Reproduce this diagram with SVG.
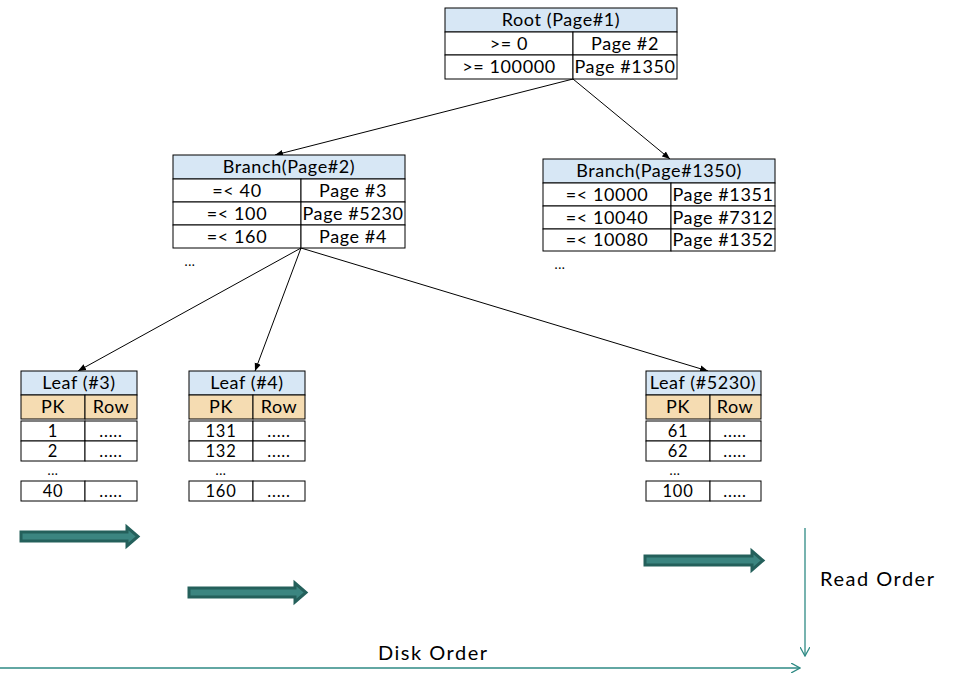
<svg xmlns="http://www.w3.org/2000/svg" width="953" height="681" viewBox="0 0 953 681">
<defs>
<style>
text{font-family:Lato,"Open Sans","DejaVu Sans",sans-serif;font-size:18px;letter-spacing:0.6px;fill:#000;text-anchor:middle}
.c{fill:#fff;stroke:#000;stroke-width:1}
.h{fill:#d7e7f5;stroke:#000;stroke-width:1}
.t{fill:#f5dcb2;stroke:#000;stroke-width:1}
.ln{stroke:#000;stroke-width:1;fill:none}
.big{fill:#3b8580;stroke:#24605b;stroke-width:3}
.tl{stroke:#2e8a84;stroke-width:1.3;fill:none}
.lab{font-size:20px;text-anchor:start;letter-spacing:1.5px}
.s{font-size:16.5px;letter-spacing:0.8px}
.d{font-size:13px}
</style>
<marker id="ah" viewBox="0 0 10 10" refX="10" refY="5" markerWidth="8" markerHeight="8" orient="auto" markerUnits="userSpaceOnUse"><path d="M0,1 L10,5 L0,9 z" fill="#000"/></marker>
<marker id="oh" viewBox="0 0 10 10" refX="9" refY="5" markerWidth="10" markerHeight="10" orient="auto" markerUnits="userSpaceOnUse"><path d="M0,0 L9,5 L0,10" fill="none" stroke="#2e8a84" stroke-width="1.3"/></marker>
</defs>
<rect width="953" height="681" fill="#fff"/>
<g id="connectors">
<line class="ln" x1="573" y1="79" x2="275" y2="155" marker-end="url(#ah)"/>
<line class="ln" x1="573" y1="79" x2="670" y2="159" marker-end="url(#ah)"/>
<line class="ln" x1="301" y1="248" x2="78" y2="371" marker-end="url(#ah)"/>
<line class="ln" x1="301" y1="248" x2="255" y2="371" marker-end="url(#ah)"/>
<line class="ln" x1="301" y1="248" x2="708" y2="371" marker-end="url(#ah)"/>
</g>
<g id="root">
<rect class="h" x="445" y="8" width="232" height="24"/>
<rect class="c" x="445" y="32" width="128" height="23"/><rect class="c" x="573" y="32" width="104" height="23"/>
<rect class="c" x="445" y="55" width="128" height="24"/><rect class="c" x="573" y="55" width="104" height="24"/>
<text x="561" y="26">Root (Page#1)</text>
<text x="509" y="50">&gt;= 0</text><text x="625" y="50">Page #2</text>
<text x="509" y="73">&gt;= 100000</text><text x="625" y="73">Page #1350</text>
</g>
<g id="branch2">
<rect class="h" x="173" y="155" width="232" height="24"/>
<rect class="c" x="173" y="179" width="128" height="23"/><rect class="c" x="301" y="179" width="104" height="23"/>
<rect class="c" x="173" y="202" width="128" height="23"/><rect class="c" x="301" y="202" width="104" height="23"/>
<rect class="c" x="173" y="225" width="128" height="23"/><rect class="c" x="301" y="225" width="104" height="23"/>
<text x="289" y="173">Branch(Page#2)</text>
<text x="237" y="197">=&lt; 40</text><text x="353" y="197">Page #3</text>
<text x="237" y="220">=&lt; 100</text><text x="353" y="220">Page #5230</text>
<text x="237" y="243">=&lt; 160</text><text x="353" y="243">Page #4</text>
<text class="d" x="190" y="266">...</text>
</g>
<g id="branch1350">
<rect class="h" x="543" y="159" width="232" height="24"/>
<rect class="c" x="543" y="183" width="128" height="23"/><rect class="c" x="671" y="183" width="104" height="23"/>
<rect class="c" x="543" y="206" width="128" height="23"/><rect class="c" x="671" y="206" width="104" height="23"/>
<rect class="c" x="543" y="229" width="128" height="22"/><rect class="c" x="671" y="229" width="104" height="22"/>
<text x="659" y="177">Branch(Page#1350)</text>
<text x="607" y="201">=&lt; 10000</text><text x="723" y="201">Page #1351</text>
<text x="607" y="224">=&lt; 10040</text><text x="723" y="224">Page #7312</text>
<text x="607" y="246">=&lt; 10080</text><text x="723" y="246">Page #1352</text>
<text class="d" x="560" y="269">...</text>
</g>
<g id="leaf3">
<rect class="h" x="21" y="371" width="116" height="24"/>
<rect class="t" x="21" y="395" width="64" height="24"/><rect class="t" x="85" y="395" width="52" height="24"/>
<rect class="c" x="21" y="421" width="64" height="20"/><rect class="c" x="85" y="421" width="52" height="20"/>
<rect class="c" x="21" y="441" width="64" height="20"/><rect class="c" x="85" y="441" width="52" height="20"/>
<rect class="c" x="21" y="481" width="64" height="20"/><rect class="c" x="85" y="481" width="52" height="20"/>
<text x="79" y="389">Leaf (#3)</text>
<text x="53" y="413">PK</text><text x="111" y="413">Row</text>
<text class="s" x="53" y="437">1</text><text class="s" x="111" y="437">.....</text>
<text class="s" x="53" y="457">2</text><text class="s" x="111" y="457">.....</text>
<text class="d" x="53" y="475">...</text>
<text class="s" x="53" y="497">40</text><text class="s" x="111" y="497">.....</text>
</g>
<g id="leaf4">
<rect class="h" x="189" y="371" width="116" height="24"/>
<rect class="t" x="189" y="395" width="64" height="24"/><rect class="t" x="253" y="395" width="52" height="24"/>
<rect class="c" x="189" y="421" width="64" height="20"/><rect class="c" x="253" y="421" width="52" height="20"/>
<rect class="c" x="189" y="441" width="64" height="20"/><rect class="c" x="253" y="441" width="52" height="20"/>
<rect class="c" x="189" y="481" width="64" height="20"/><rect class="c" x="253" y="481" width="52" height="20"/>
<text x="247" y="389">Leaf (#4)</text>
<text x="221" y="413">PK</text><text x="279" y="413">Row</text>
<text class="s" x="221" y="437">131</text><text class="s" x="279" y="437">.....</text>
<text class="s" x="221" y="457">132</text><text class="s" x="279" y="457">.....</text>
<text class="d" x="221" y="475">...</text>
<text class="s" x="221" y="497">160</text><text class="s" x="279" y="497">.....</text>
</g>
<g id="leaf5230">
<rect class="h" x="646" y="371" width="115" height="24"/>
<rect class="t" x="646" y="395" width="64" height="24"/><rect class="t" x="710" y="395" width="51" height="24"/>
<rect class="c" x="646" y="421" width="64" height="20"/><rect class="c" x="710" y="421" width="51" height="20"/>
<rect class="c" x="646" y="441" width="64" height="20"/><rect class="c" x="710" y="441" width="51" height="20"/>
<rect class="c" x="646" y="481" width="64" height="20"/><rect class="c" x="710" y="481" width="51" height="20"/>
<text x="703" y="389">Leaf (#5230)</text>
<text x="678" y="413">PK</text><text x="735" y="413">Row</text>
<text class="s" x="678" y="437">61</text><text class="s" x="735" y="437">.....</text>
<text class="s" x="678" y="457">62</text><text class="s" x="735" y="457">.....</text>
<text class="d" x="675" y="475">...</text>
<text class="s" x="678" y="497">100</text><text class="s" x="735" y="497">.....</text>
</g>
<g id="arrows">
<path class="big" d="M21,532 H127 V527 L138,536.5 L127,546 V541 H21 Z"/>
<path class="big" d="M189,588 H295 V583 L306,592.5 L295,602 V597 H189 Z"/>
<path class="big" d="M645,556 H752 V551 L763,560.5 L752,570 V565 H645 Z"/>
</g>
<g id="orders">
<line class="tl" x1="805" y1="528" x2="805" y2="656" marker-end="url(#oh)"/>
<line class="tl" x1="0" y1="668" x2="800" y2="668" marker-end="url(#oh)"/>
<text class="lab" x="820" y="586">Read Order</text>
<text class="lab" x="378" y="660">Disk Order</text>
</g>
</svg>
